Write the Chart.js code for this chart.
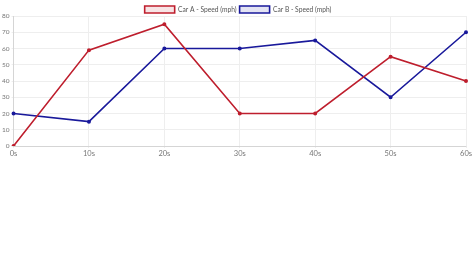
<!DOCTYPE html>
<html><head><meta charset="utf-8">
<script src="https://cdn.jsdelivr.net/npm/chart.js"></script>
<style>html,body{margin:0;padding:0;background:#fff}#w{width:474px;height:159px}</style>
</head><body><div id="w"><canvas id="c"></canvas></div>
<script>
const categories = ['0s','10s','20s','30s','40s','50s','60s'];
const carA = [0, 59, 75, 20, 20, 55, 40];
const carB = [20, 15, 60, 60, 65, 30, 70];
const yTicks = [0,10,20,30,40,50,60,70,80];
const red = 'rgb(190,30,45)', blue = 'rgb(25,25,155)';
const legendFix = {
  id:'legendFix',
  beforeInit(chart){
    const lg = chart.legend;
    if (!lg) return;
    const origFit = lg.fit, origDraw = lg.draw;
    lg.fit = function(){ origFit.call(this); this.height = 16; };
    lg.draw = function(){
      const t = this.top, l = this.left, r = this.right;
      this.top = t + 3; this.left = l + 5; this.right = r + 5;
      origDraw.apply(this, arguments);
      this.top = t; this.left = l; this.right = r;
    };
  }
};
new Chart(document.getElementById('c'), {
  type: 'line',
  data: { labels: categories, datasets: [
    {label:'Car A - Speed (mph)', data: carA, borderColor: red, backgroundColor:'rgba(190,30,45,0.12)', borderWidth:1.6, pointRadius:1.2, pointBackgroundColor: red, tension:0},
    {label:'Car B - Speed (mph)', data: carB, borderColor: blue, backgroundColor:'rgba(25,25,155,0.12)', borderWidth:1.6, pointRadius:1.2, pointBackgroundColor: blue, tension:0}
  ]},
  plugins:[legendFix],
  options: {
    responsive:true, maintainAspectRatio:false, animation:false,
    layout:{padding:{left:0,right:8,top:0,bottom:0}},
    plugins:{ legend:{ labels:{ boxWidth:30, boxHeight:7, font:{family:'Lato', size:6.7}, color:'#555', padding:3}}},
    scales:{
      x:{ ticks:{font:{family:'Lato', size:7.5}, color:'#777', padding:1}, grid:{color:'#eee', tickLength:2}},
      y:{ min:0, max:80, afterBuildTicks: a => { a.ticks = yTicks.map(v=>({value:v})); },
          ticks:{font:{family:'Lato', size:6.5}, color:'#777', padding:2}, grid:{color:'#eee', tickLength:2}}
    }
  }
});
</script></body></html>
